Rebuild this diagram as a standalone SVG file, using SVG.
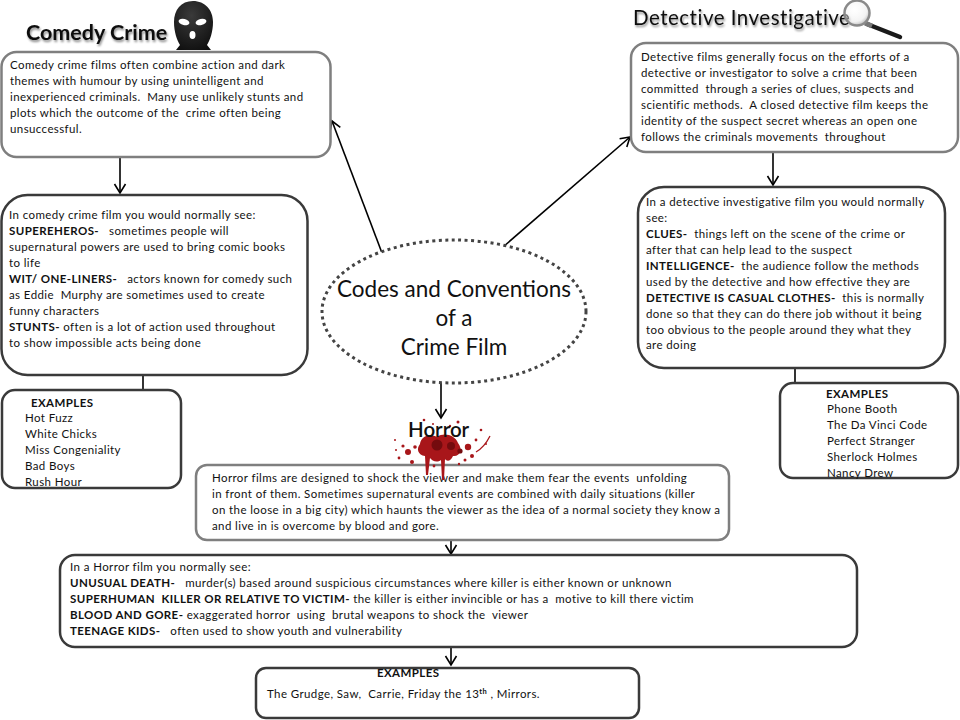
<svg xmlns="http://www.w3.org/2000/svg" width="960" height="720" viewBox="0 0 960 720">
<style>
  .t { font-family: Lato, "Open Sans", "Liberation Sans", sans-serif; font-size: 11.5px; letter-spacing: 0.4px; fill: #111; white-space: pre; }
  .b { font-weight: bold; }
  .boxL { fill: #fff; stroke: #7f7f7f; stroke-width: 2.5; }
  .boxD { fill: #fff; stroke: #3a3a3a; stroke-width: 2.5; }
  .title { font-family: Lato, "Open Sans", "Liberation Sans", sans-serif; fill: #111; }
  .conn line { stroke: #000; stroke-width: 1.6; }
</style>
<defs>
  <marker id="arr" viewBox="-11 -7 13 14" refX="0" refY="0" markerWidth="13" markerHeight="14" markerUnits="userSpaceOnUse" orient="auto">
    <path d="M-9,-5.5 L0,0 L-9,5.5" fill="none" stroke="#000" stroke-width="1.6"/>
  </marker>
  <filter id="sh" x="-10%" y="-30%" width="130%" height="170%">
    <feDropShadow dx="1" dy="2" stdDeviation="1.2" flood-color="#000" flood-opacity="0.45"/>
  </filter>
  <radialGradient id="lens" cx="0.4" cy="0.35" r="0.7">
    <stop offset="0" stop-color="#ffffff" stop-opacity="0.3"/>
    <stop offset="0.7" stop-color="#e6e6e6" stop-opacity="0.5"/>
    <stop offset="1" stop-color="#9a9a9a" stop-opacity="0.9"/>
  </radialGradient>
  <radialGradient id="maskg" cx="0.45" cy="0.3" r="0.8">
    <stop offset="0" stop-color="#3a3a3a"/>
    <stop offset="1" stop-color="#0d0d0d"/>
  </radialGradient>
</defs>
<rect width="960" height="720" fill="#fff"/>

<!-- Connectors -->
<g id="connectors" class="conn" marker-end="url(#arr)">
  <line x1="120" y1="157" x2="120" y2="193"/>
  <line x1="143" y1="375" x2="143" y2="410"/>
  <line x1="382" y1="253" x2="332" y2="121"/>
  <line x1="503" y1="247" x2="630" y2="137"/>
  <line x1="773" y1="152" x2="773" y2="185"/>
  <line x1="795" y1="368" x2="795" y2="403"/>
  <line x1="441" y1="383" x2="441" y2="418"/>
  <line x1="451" y1="540" x2="451" y2="554"/>
  <line x1="451" y1="647" x2="451" y2="665"/>
</g>

<!-- Comedy Crime heading -->
<g id="comedy-title">
  <text class="title" x="26" y="40" font-size="21.5" font-weight="bold" filter="url(#sh)">Comedy Crime</text>
  <path d="M193,1 C181,1 174,10 174,22 C174,32 177,40 180,45 L176,50 L211,50 L207,45 C210,40 213,32 213,22 C213,10 205,1 193,1 Z" fill="url(#maskg)"/>
  <ellipse cx="184" cy="22" rx="5.5" ry="3" fill="#fff" transform="rotate(12 184 22)"/>
  <ellipse cx="201" cy="22" rx="5.5" ry="3" fill="#fff" transform="rotate(-12 201 22)"/>
  <ellipse cx="192.5" cy="35" rx="3" ry="4" fill="#fff"/>
</g>

<!-- Comedy description -->
<g id="comedy-desc">
  <rect class="boxL" x="1.5" y="52" width="329" height="105" rx="15"/>
  <text class="t" x="10" y="69">Comedy crime films often combine action and dark</text>
  <text class="t" x="10" y="85">themes with humour by using unintelligent and</text>
  <text class="t" x="10" y="101">inexperienced criminals.  Many use unlikely stunts and</text>
  <text class="t" x="10" y="117">plots which the outcome of the  crime often being</text>
  <text class="t" x="10" y="133">unsuccessful.</text>
</g>

<!-- Comedy conventions -->
<g id="comedy-conventions">
  <rect class="boxD" x="1.5" y="195" width="306" height="180" rx="26"/>
  <text class="t" x="9" y="219">In comedy crime film you would normally see:</text>
  <text class="t" x="9" y="235"><tspan class="b">SUPEREHEROS-</tspan>   sometimes people will</text>
  <text class="t" x="9" y="251">supernatural powers are used to bring comic books</text>
  <text class="t" x="9" y="267">to life</text>
  <text class="t" x="9" y="283"><tspan class="b">WIT/ ONE-LINERS-</tspan>   actors known for comedy such</text>
  <text class="t" x="9" y="299">as Eddie  Murphy are sometimes used to create</text>
  <text class="t" x="9" y="315">funny characters</text>
  <text class="t" x="9" y="331"><tspan class="b">STUNTS-</tspan> often is a lot of action used throughout</text>
  <text class="t" x="9" y="347">to show impossible acts being done</text>
</g>

<!-- Comedy examples -->
<g id="comedy-examples">
  <rect class="boxD" x="2" y="390" width="179" height="98" rx="13"/>
  <text class="t b" x="31" y="407">EXAMPLES</text>
  <text class="t" x="25" y="422">Hot Fuzz</text>
  <text class="t" x="25" y="438">White Chicks</text>
  <text class="t" x="25" y="454">Miss Congeniality</text>
  <text class="t" x="25" y="470">Bad Boys</text>
  <text class="t" x="25" y="486">Rush Hour</text>
</g>

<!-- Central node -->
<g id="center">
  <ellipse cx="454" cy="311.5" rx="132" ry="71.5" fill="#fff" stroke="#444" stroke-width="3" stroke-dasharray="3 3.5"/>
  <text class="title" x="454" y="297" font-size="22.5" text-anchor="middle">Codes and Conventions</text>
  <text class="title" x="454" y="326" font-size="22.5" text-anchor="middle">of a</text>
  <text class="title" x="454" y="355" font-size="22.5" text-anchor="middle">Crime Film</text>
</g>

<!-- Detective heading -->
<g id="detective-title">
  <text class="title" x="633" y="25" font-size="20.5" letter-spacing="0.5" filter="url(#sh)">Detective Investigative</text>
  <line x1="867" y1="24" x2="900" y2="37" stroke="#1a1a1a" stroke-width="4.5" stroke-linecap="round"/>
  <line x1="865" y1="23" x2="872" y2="26" stroke="#777" stroke-width="5"/>
  <circle cx="857" cy="13" r="12.5" fill="url(#lens)" stroke="#8a8a8a" stroke-width="2.5"/>
</g>

<!-- Detective description -->
<g id="detective-desc">
  <rect class="boxL" x="631" y="43" width="327" height="109" rx="15"/>
  <text class="t" x="641" y="61">Detective films generally focus on the efforts of a</text>
  <text class="t" x="641" y="77">detective or investigator to solve a crime that been</text>
  <text class="t" x="641" y="93">committed  through a series of clues, suspects and</text>
  <text class="t" x="641" y="109">scientific methods.  A closed detective film keeps the</text>
  <text class="t" x="641" y="125">identity of the suspect secret whereas an open one</text>
  <text class="t" x="641" y="141">follows the criminals movements  throughout</text>
</g>

<!-- Detective conventions -->
<g id="detective-conventions">
  <rect class="boxD" x="638" y="187" width="307" height="181" rx="26"/>
  <text class="t" x="646" y="206">In a detective investigative film you would normally</text>
  <text class="t" x="646" y="222">see:</text>
  <text class="t" x="646" y="238"><tspan class="b">CLUES-</tspan>  things left on the scene of the crime or</text>
  <text class="t" x="646" y="254">after that can help lead to the suspect</text>
  <text class="t" x="646" y="270"><tspan class="b">INTELLIGENCE-</tspan>  the audience follow the methods</text>
  <text class="t" x="646" y="286">used by the detective and how effective they are</text>
  <text class="t" x="646" y="302"><tspan class="b">DETECTIVE IS CASUAL CLOTHES-</tspan>  this is normally</text>
  <text class="t" x="646" y="318">done so that they can do there job without it being</text>
  <text class="t" x="646" y="334">too obvious to the people around they what they</text>
  <text class="t" x="646" y="349">are doing</text>
</g>

<!-- Detective examples -->
<g id="detective-examples">
  <rect class="boxD" x="780" y="383" width="178" height="95" rx="13"/>
  <text class="t b" x="826" y="398">EXAMPLES</text>
  <text class="t" x="827" y="413">Phone Booth</text>
  <text class="t" x="827" y="429">The Da Vinci Code</text>
  <text class="t" x="827" y="445">Perfect Stranger</text>
  <text class="t" x="827" y="461">Sherlock Holmes</text>
  <text class="t" x="827" y="477">Nancy Drew</text>
</g>

<!-- Horror description -->
<g id="horror-desc">
  <rect class="boxL" x="196" y="465" width="533" height="75" rx="11"/>
  <text class="t" x="212" y="482">Horror films are designed to shock the viewer and make them fear the events  unfolding</text>
  <text class="t" x="212" y="498">in front of them. Sometimes supernatural events are combined with daily situations (killer</text>
  <text class="t" x="212" y="514">on the loose in a big city) which haunts the viewer as the idea of a normal society they know a</text>
  <text class="t" x="212" y="530">and live in is overcome by blood and gore.</text>
</g>

<!-- Horror heading with blood splatter -->
<g id="horror-title">
  <g fill="#a8161a">
    <path d="M420,444 C421,436 430,433 437,437 C444,432 455,435 458,443 C463,449 460,457 453,456 C451,461 447,462 445,459 L444,480 L442,480 L441,460 C437,463 432,461 430,458 L428,475 L426,475 L425,456 C418,455 416,449 420,444 Z"/>
    <circle cx="408" cy="452" r="3"/>
    <circle cx="403" cy="446" r="1.6"/>
    <circle cx="399" cy="458" r="1.4"/>
    <circle cx="396" cy="450" r="1"/>
    <circle cx="412" cy="462" r="2"/>
    <circle cx="415" cy="447" r="1.8"/>
    <circle cx="468" cy="447" r="3.2"/>
    <circle cx="472" cy="456" r="2"/>
    <circle cx="465" cy="460" r="1.5"/>
    <circle cx="476" cy="440" r="1.4"/>
    <circle cx="481" cy="430" r="1.3"/>
    <circle cx="458" cy="422" r="1.5"/>
    <circle cx="424" cy="420" r="1.3"/>
    <circle cx="450" cy="426" r="1.2"/>
    <circle cx="433" cy="424" r="1"/>
    <circle cx="395" cy="440" r="1"/>
    <circle cx="486" cy="444" r="1"/>
    <circle cx="434" cy="466" r="1.4"/>
    <circle cx="459" cy="464" r="1.2"/>
    <path d="M476,452 C483,448 487,442 490,436" fill="none" stroke="#a8161a" stroke-width="1.3"/>
  </g>
  <g fill="#740b0e">
    <circle cx="437" cy="445" r="5.5"/>
    <circle cx="451" cy="446" r="4"/>
    <circle cx="460" cy="451" r="2.6"/>
  </g>
  <text class="title" x="408" y="437" font-size="20.5" font-weight="600">Horror</text>
</g>

<!-- Horror conventions -->
<g id="horror-conventions">
  <rect class="boxD" x="60" y="555" width="797" height="92" rx="15"/>
  <text class="t" x="70" y="571">In a Horror film you normally see:</text>
  <text class="t" x="70" y="587"><tspan class="b">UNUSUAL DEATH-</tspan>   murder(s) based around suspicious circumstances where killer is either known or unknown</text>
  <text class="t" x="70" y="603"><tspan class="b">SUPERHUMAN  KILLER OR RELATIVE TO VICTIM-</tspan> the killer is either invincible or has a  motive to kill there victim</text>
  <text class="t" x="70" y="619"><tspan class="b">BLOOD AND GORE-</tspan> exaggerated horror  using  brutal weapons to shock the  viewer</text>
  <text class="t" x="70" y="635"><tspan class="b">TEENAGE KIDS-</tspan>   often used to show youth and vulnerability</text>
</g>

<!-- Horror examples -->
<g id="horror-examples">
  <rect class="boxD" x="256" y="668" width="383" height="50" rx="10"/>
  <text class="t b" x="377" y="677">EXAMPLES</text>
  <text class="t" x="267" y="698">The Grudge, Saw,  Carrie, Friday the 13<tspan class="b" font-size="7.5" dy="-4">th</tspan><tspan dy="4"> , Mirrors.</tspan></text>
</g>
</svg>
